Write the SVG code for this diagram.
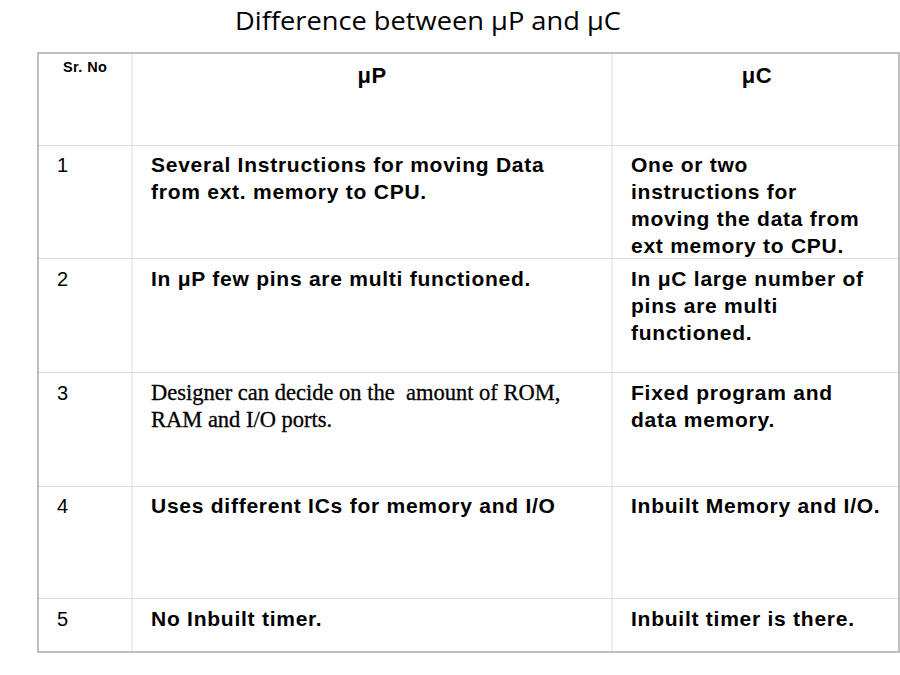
<svg xmlns="http://www.w3.org/2000/svg" width="900" height="675" viewBox="0 0 900 675">
<style>
.b{font-family:"Liberation Sans",Arial,sans-serif;font-weight:bold;font-size:21px;letter-spacing:0.75px;fill:#000}
.n{font-family:"Liberation Sans",Arial,sans-serif;font-size:20px;fill:#000}
.t{font-family:"Liberation Serif","Times New Roman",serif;font-size:22.5px;fill:#000;stroke:#000;stroke-width:0.3px}
.h{font-family:"Liberation Sans",Arial,sans-serif;font-weight:bold;font-size:22px;letter-spacing:0.5px;fill:#000;text-anchor:middle}
.in{stroke:#dcdcdc;stroke-width:1;fill:none}
</style>
<rect width="900" height="675" fill="#fff"/>
<text x="428" y="30" text-anchor="middle" font-family="'Open Sans','Noto Sans',sans-serif" font-size="25" fill="#000" textLength="386" lengthAdjust="spacingAndGlyphs">Difference between μP and μC</text>
<g id="grid">
<line class="in" x1="132" y1="53" x2="132" y2="652"/>
<line class="in" x1="612" y1="53" x2="612" y2="652"/>
<line class="in" x1="38" y1="145.5" x2="899" y2="145.5"/>
<line class="in" x1="38" y1="258.5" x2="899" y2="258.5"/>
<line class="in" x1="38" y1="372.5" x2="899" y2="372.5"/>
<line class="in" x1="38" y1="486.5" x2="899" y2="486.5"/>
<line class="in" x1="38" y1="598.5" x2="899" y2="598.5"/>
<rect x="38" y="53" width="861" height="599" fill="none" stroke="#aaaaaa" stroke-width="1.5"/>
</g>
<g id="header">
<text x="63" y="72" font-family="'Liberation Sans',Arial,sans-serif" font-weight="bold" font-size="14.5" letter-spacing="0.4">Sr. No</text>
<text class="h" x="372" y="83">μP</text>
<text class="h" x="757" y="83">μC</text>
</g>
<g id="row1">
<text class="n" x="57" y="172">1</text>
<text class="b" x="151" y="172">Several Instructions for moving Data</text>
<text class="b" x="151" y="199">from ext. memory to CPU.</text>
<text class="b" x="631" y="172">One or two</text>
<text class="b" x="631" y="199">instructions for</text>
<text class="b" x="631" y="226">moving the data from</text>
<text class="b" x="631" y="253">ext memory to CPU.</text>
</g>
<g id="row2">
<text class="n" x="57" y="286">2</text>
<text class="b" x="151" y="286">In μP few pins are multi functioned.</text>
<text class="b" x="631" y="286">In μC large number of</text>
<text class="b" x="631" y="313">pins are multi</text>
<text class="b" x="631" y="340">functioned.</text>
</g>
<g id="row3">
<text class="n" x="57" y="400">3</text>
<text class="t" x="151" y="400" xml:space="preserve">Designer can decide on the  amount of ROM,</text>
<text class="t" x="151" y="427">RAM and I/O ports.</text>
<text class="b" x="631" y="400">Fixed program and</text>
<text class="b" x="631" y="427">data memory.</text>
</g>
<g id="row4">
<text class="n" x="57" y="513">4</text>
<text class="b" x="151" y="513">Uses different ICs for memory and I/O</text>
<text class="b" x="631" y="513">Inbuilt Memory and I/O.</text>
</g>
<g id="row5">
<text class="n" x="57" y="626">5</text>
<text class="b" x="151" y="626">No Inbuilt timer.</text>
<text class="b" x="631" y="626">Inbuilt timer is there.</text>
</g>
</svg>
